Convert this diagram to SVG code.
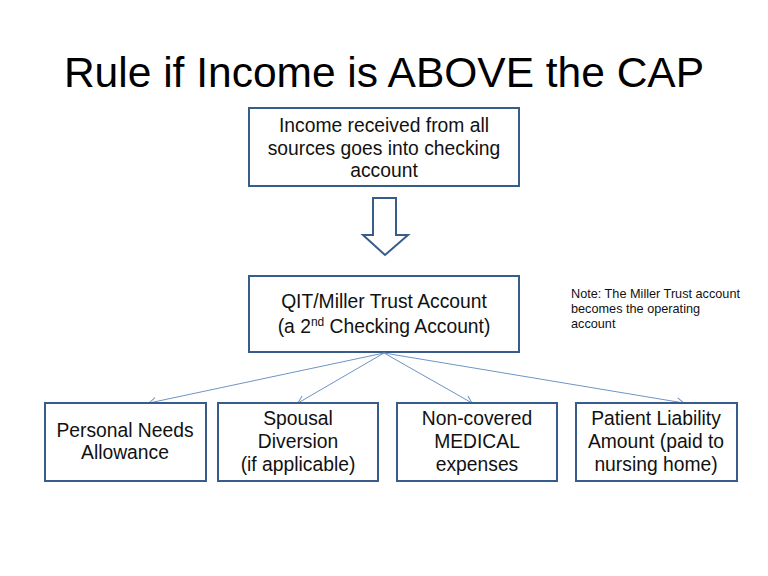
<svg xmlns="http://www.w3.org/2000/svg" width="768" height="576" viewBox="0 0 768 576">
<style>
.box{fill:#fff;stroke:#385D8A;stroke-width:2}
.t{font-family:"Liberation Sans",Arial,sans-serif;font-size:19.3px;fill:#111;text-anchor:middle}
.title{font-family:"Liberation Sans",Arial,sans-serif;font-size:42.5px;fill:#000;text-anchor:middle}
.note{font-family:"Liberation Sans",Arial,sans-serif;font-size:12.7px;fill:#111}
.conn{stroke:#6F94C4;stroke-width:1;fill:none;marker-end:url(#ah)}
</style>
<defs>
<marker id="ah" markerWidth="10" markerHeight="10" refX="8" refY="5" orient="auto" markerUnits="userSpaceOnUse">
<path d="M1,1 L8,5 L1,9" fill="none" stroke="#6F94C4" stroke-width="1"/>
</marker>
</defs>
<rect width="768" height="576" fill="#fff"/>
<text class="title" x="384" y="87">Rule if Income is ABOVE the CAP</text>
<g id="income">
<rect class="box" x="249" y="108" width="270" height="78"/>
<text class="t" x="384" y="132">Income received  from all</text>
<text class="t" x="384" y="155">sources goes into checking</text>
<text class="t" x="384" y="177">account</text>
</g>
<g id="bigarrow">
<path d="M373,198 H396 V235 H408 L385,255 L363,235 H373 Z" fill="#fff" stroke="#385D8A" stroke-width="2" stroke-linejoin="miter"/>
</g>
<g id="qit">
<rect class="box" x="249" y="276" width="270" height="76"/>
<text class="t" x="384" y="308">QIT/Miller Trust Account</text>
<text class="t" x="384" y="333">(a 2<tspan font-size="12" dy="-7">nd</tspan><tspan dy="7"> Checking Account)</tspan></text>
</g>
<g id="note">
<text class="note" x="571" y="298">Note: The Miller Trust account</text>
<text class="note" x="571" y="313">becomes the operating</text>
<text class="note" x="571" y="328">account</text>
</g>
<g id="connectors">
<line class="conn" x1="384" y1="353" x2="149" y2="403"/>
<line class="conn" x1="384" y1="353" x2="298" y2="403"/>
<line class="conn" x1="384" y1="353" x2="472" y2="403"/>
<line class="conn" x1="384" y1="353" x2="684" y2="403"/>
</g>
<g id="pna">
<rect class="box" x="45" y="403" width="161" height="78"/>
<text class="t" x="125" y="437">Personal Needs</text>
<text class="t" x="125" y="459">Allowance</text>
</g>
<g id="spousal">
<rect class="box" x="218" y="403" width="160" height="78"/>
<text class="t" x="298" y="425">Spousal</text>
<text class="t" x="298" y="448">Diversion</text>
<text class="t" x="298" y="471">(if applicable)</text>
</g>
<g id="medical">
<rect class="box" x="397" y="403" width="160" height="78"/>
<text class="t" x="477" y="425">Non-covered</text>
<text class="t" x="477" y="448">MEDICAL</text>
<text class="t" x="477" y="471">expenses</text>
</g>
<g id="liability">
<rect class="box" x="576" y="403" width="161" height="78"/>
<text class="t" x="656" y="425">Patient Liability</text>
<text class="t" x="656" y="448">Amount (paid to</text>
<text class="t" x="656" y="471">nursing home)</text>
</g>
</svg>
